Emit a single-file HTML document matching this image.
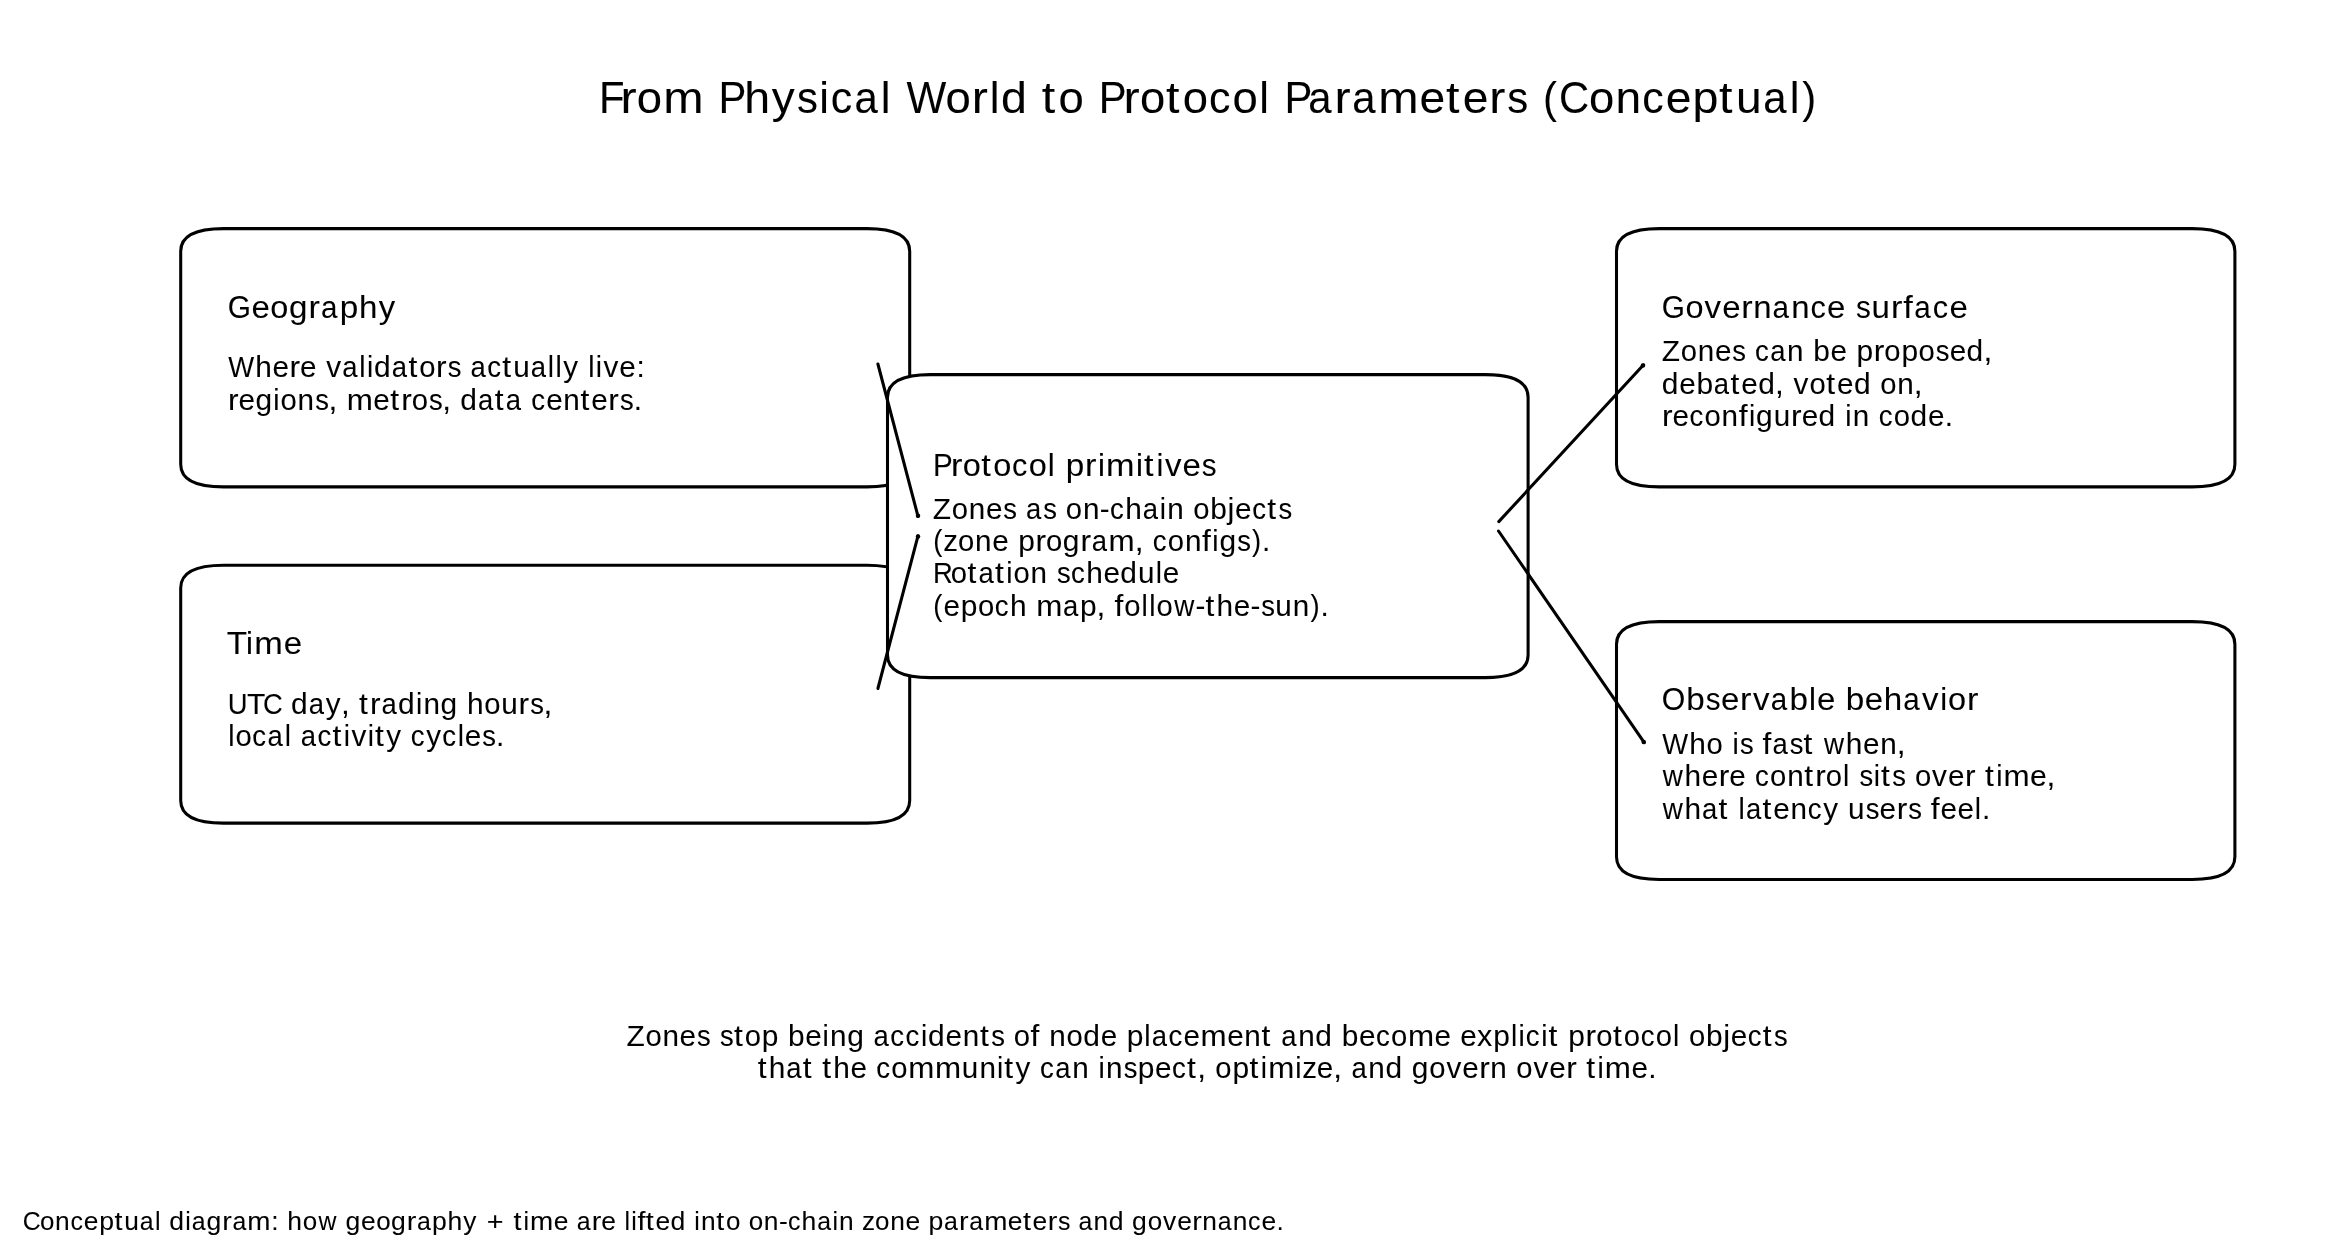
<!DOCTYPE html>
<html lang="en">
<head>
<meta charset="utf-8">
<title>From Physical World to Protocol Parameters (Conceptual)</title>
<style>
html,body{margin:0;padding:0;background:#ffffff;}
body{width:2334px;height:1256px;overflow:hidden;}
svg{display:block;will-change:transform;filter:grayscale(1);}
text{font-family:"Liberation Sans",sans-serif;fill:#000000;stroke:#000000;stroke-width:0.05;}
.box{fill:#ffffff;stroke:#000000;stroke-width:3.06;stroke-linejoin:miter;}
.ln{fill:none;stroke:#000000;stroke-width:3.06;stroke-linecap:round;}
</style>
</head>
<body>
<svg width="2334" height="1256" viewBox="0 0 2334 1256">
<rect x="0" y="0" width="2334" height="1256" fill="#ffffff"/>
<g class="boxes">
<path class="box" d="M223.5 228.65L866.9 228.65Q909.7 228.65 909.7 251.35L909.7 464.15Q909.7 486.85 866.9 486.85L223.5 486.85Q180.7 486.85 180.7 464.15L180.7 251.35Q180.7 228.65 223.5 228.65Z"/>
<path class="box" d="M223.5 565.3L866.9 565.3Q909.7 565.3 909.7 588L909.7 800.4Q909.7 823.1 866.9 823.1L223.5 823.1Q180.7 823.1 180.7 800.4L180.7 588Q180.7 565.3 223.5 565.3Z"/>
<path class="box" d="M1659.3 228.65L2192.1 228.65Q2234.9 228.65 2234.9 251.35L2234.9 464.15Q2234.9 486.85 2192.1 486.85L1659.3 486.85Q1616.5 486.85 1616.5 464.15L1616.5 251.35Q1616.5 228.65 1659.3 228.65Z"/>
<path class="box" d="M1659.3 621.6L2192.1 621.6Q2234.9 621.6 2234.9 644.3L2234.9 856.8Q2234.9 879.5 2192.1 879.5L1659.3 879.5Q1616.5 879.5 1616.5 856.8L1616.5 644.3Q1616.5 621.6 1659.3 621.6Z"/>
<path class="box" d="M930.3 374.6L1485.3 374.6Q1528.1 374.6 1528.1 397.3L1528.1 654.9Q1528.1 677.6 1485.3 677.6L930.3 677.6Q887.5 677.6 887.5 654.9L887.5 397.3Q887.5 374.6 930.3 374.6Z"/>
</g>
<g class="links">
<line class="ln" x1="877.9" y1="364" x2="918" y2="516.3"/>
<line class="ln" x1="877.9" y1="688.5" x2="918" y2="535.9"/>
<line class="ln" x1="1498.8" y1="521.6" x2="1643.6" y2="364.8"/>
<line class="ln" x1="1498.5" y1="531" x2="1644.3" y2="742.6"/>
<circle cx="918" cy="515.8" r="2.25" fill="#000000"/>
<circle cx="918" cy="536.4" r="2.25" fill="#000000"/>
<circle cx="1642.9" cy="365.5" r="2.25" fill="#000000"/>
<circle cx="1643.7" cy="741.9" r="2.25" fill="#000000"/>
</g>
<g class="labels">
<text y="113" font-size="44.06"><tspan x="599.1" textLength="25.57" lengthAdjust="spacingAndGlyphs">F</tspan><tspan x="620.47" textLength="16.14" lengthAdjust="spacingAndGlyphs">r</tspan><tspan x="636.83" textLength="25.29" lengthAdjust="spacingAndGlyphs">o</tspan><tspan x="663.2" textLength="40.37" lengthAdjust="spacingAndGlyphs">m</tspan> <tspan x="718.53" textLength="27.92" lengthAdjust="spacingAndGlyphs">P</tspan><tspan x="744.21" textLength="25.83" lengthAdjust="spacingAndGlyphs">h</tspan><tspan x="771.8" textLength="22.97" lengthAdjust="spacingAndGlyphs">y</tspan><tspan x="797.09" textLength="20.93" lengthAdjust="spacingAndGlyphs">s</tspan><tspan x="819.32" textLength="9.72" lengthAdjust="spacingAndGlyphs">i</tspan><tspan x="830.63" textLength="21.46" lengthAdjust="spacingAndGlyphs">c</tspan><tspan x="854.38" textLength="23.28" lengthAdjust="spacingAndGlyphs">a</tspan><tspan x="880.87" textLength="9.72" lengthAdjust="spacingAndGlyphs">l</tspan> <tspan x="906.49" textLength="39.81" lengthAdjust="spacingAndGlyphs">W</tspan><tspan x="945.48" textLength="25.29" lengthAdjust="spacingAndGlyphs">o</tspan><tspan x="971.85" textLength="16.14" lengthAdjust="spacingAndGlyphs">r</tspan><tspan x="989.84" textLength="9.72" lengthAdjust="spacingAndGlyphs">l</tspan><tspan x="1001.04" textLength="25.86" lengthAdjust="spacingAndGlyphs">d</tspan> <tspan x="1041.78" textLength="13.47" lengthAdjust="spacingAndGlyphs">t</tspan><tspan x="1058.57" textLength="25.29" lengthAdjust="spacingAndGlyphs">o</tspan> <tspan x="1098.63" textLength="27.92" lengthAdjust="spacingAndGlyphs">P</tspan><tspan x="1123.56" textLength="16.14" lengthAdjust="spacingAndGlyphs">r</tspan><tspan x="1139.92" textLength="25.29" lengthAdjust="spacingAndGlyphs">o</tspan><tspan x="1166.04" textLength="13.47" lengthAdjust="spacingAndGlyphs">t</tspan><tspan x="1182.84" textLength="25.29" lengthAdjust="spacingAndGlyphs">o</tspan><tspan x="1209.08" textLength="21.46" lengthAdjust="spacingAndGlyphs">c</tspan><tspan x="1232.5" textLength="25.29" lengthAdjust="spacingAndGlyphs">o</tspan><tspan x="1259.29" textLength="9.72" lengthAdjust="spacingAndGlyphs">l</tspan> <tspan x="1284.43" textLength="27.92" lengthAdjust="spacingAndGlyphs">P</tspan><tspan x="1308.36" textLength="23.28" lengthAdjust="spacingAndGlyphs">a</tspan><tspan x="1334.44" textLength="16.14" lengthAdjust="spacingAndGlyphs">r</tspan><tspan x="1352.14" textLength="23.28" lengthAdjust="spacingAndGlyphs">a</tspan><tspan x="1378.21" textLength="40.37" lengthAdjust="spacingAndGlyphs">m</tspan><tspan x="1419.58" textLength="25.7" lengthAdjust="spacingAndGlyphs">e</tspan><tspan x="1445.9" textLength="13.47" lengthAdjust="spacingAndGlyphs">t</tspan><tspan x="1462.65" textLength="25.7" lengthAdjust="spacingAndGlyphs">e</tspan><tspan x="1489.22" textLength="16.14" lengthAdjust="spacingAndGlyphs">r</tspan><tspan x="1507.28" textLength="20.93" lengthAdjust="spacingAndGlyphs">s</tspan> <tspan x="1543.07" textLength="13.94" lengthAdjust="spacingAndGlyphs">(</tspan><tspan x="1558.94" textLength="30.23" lengthAdjust="spacingAndGlyphs">C</tspan><tspan x="1588.97" textLength="25.29" lengthAdjust="spacingAndGlyphs">o</tspan><tspan x="1615.49" textLength="25.65" lengthAdjust="spacingAndGlyphs">n</tspan><tspan x="1642.3" textLength="21.46" lengthAdjust="spacingAndGlyphs">c</tspan><tspan x="1665.67" textLength="25.7" lengthAdjust="spacingAndGlyphs">e</tspan><tspan x="1692.46" textLength="25.88" lengthAdjust="spacingAndGlyphs">p</tspan><tspan x="1719.12" textLength="13.47" lengthAdjust="spacingAndGlyphs">t</tspan><tspan x="1736.11" textLength="25.65" lengthAdjust="spacingAndGlyphs">u</tspan><tspan x="1763.36" textLength="23.28" lengthAdjust="spacingAndGlyphs">a</tspan><tspan x="1789.85" textLength="9.72" lengthAdjust="spacingAndGlyphs">l</tspan><tspan x="1802.31" textLength="13.94" lengthAdjust="spacingAndGlyphs">)</tspan></text>
<text y="318" font-size="31.17"><tspan x="227.77" textLength="23.18" lengthAdjust="spacingAndGlyphs">G</tspan><tspan x="251.47" textLength="18.36" lengthAdjust="spacingAndGlyphs">e</tspan><tspan x="270.27" textLength="18.07" lengthAdjust="spacingAndGlyphs">o</tspan><tspan x="288.9" textLength="18.47" lengthAdjust="spacingAndGlyphs">g</tspan><tspan x="308.47" textLength="11.42" lengthAdjust="spacingAndGlyphs">r</tspan><tspan x="321.09" textLength="16.47" lengthAdjust="spacingAndGlyphs">a</tspan><tspan x="339.83" textLength="18.49" lengthAdjust="spacingAndGlyphs">p</tspan><tspan x="359.04" textLength="18.45" lengthAdjust="spacingAndGlyphs">h</tspan><tspan x="378.72" textLength="16.41" lengthAdjust="spacingAndGlyphs">y</tspan></text>
<text y="377" font-size="28.88"><tspan x="228.34" textLength="25.89" lengthAdjust="spacingAndGlyphs">W</tspan><tspan x="255.17" textLength="16.6" lengthAdjust="spacingAndGlyphs">h</tspan><tspan x="272.43" textLength="16.52" lengthAdjust="spacingAndGlyphs">e</tspan><tspan x="289.48" textLength="10.58" lengthAdjust="spacingAndGlyphs">r</tspan><tspan x="300.03" textLength="16.52" lengthAdjust="spacingAndGlyphs">e</tspan> <tspan x="326.15" textLength="14.84" lengthAdjust="spacingAndGlyphs">v</tspan><tspan x="342.19" textLength="15.26" lengthAdjust="spacingAndGlyphs">a</tspan><tspan x="359.25" textLength="6.25" lengthAdjust="spacingAndGlyphs">l</tspan><tspan x="366.91" textLength="6.25" lengthAdjust="spacingAndGlyphs">i</tspan><tspan x="374.1" textLength="16.62" lengthAdjust="spacingAndGlyphs">d</tspan><tspan x="391.78" textLength="15.26" lengthAdjust="spacingAndGlyphs">a</tspan><tspan x="408.4" textLength="8.82" lengthAdjust="spacingAndGlyphs">t</tspan><tspan x="419.22" textLength="16.26" lengthAdjust="spacingAndGlyphs">o</tspan><tspan x="436.14" textLength="10.58" lengthAdjust="spacingAndGlyphs">r</tspan><tspan x="447.79" textLength="13.72" lengthAdjust="spacingAndGlyphs">s</tspan> <tspan x="470.61" textLength="15.26" lengthAdjust="spacingAndGlyphs">a</tspan><tspan x="487.33" textLength="13.8" lengthAdjust="spacingAndGlyphs">c</tspan><tspan x="502.36" textLength="8.82" lengthAdjust="spacingAndGlyphs">t</tspan><tspan x="513.29" textLength="16.49" lengthAdjust="spacingAndGlyphs">u</tspan><tspan x="530.8" textLength="15.26" lengthAdjust="spacingAndGlyphs">a</tspan><tspan x="547.86" textLength="6.25" lengthAdjust="spacingAndGlyphs">l</tspan><tspan x="555.5" textLength="6.25" lengthAdjust="spacingAndGlyphs">l</tspan><tspan x="563.19" textLength="14.77" lengthAdjust="spacingAndGlyphs">y</tspan> <tspan x="588.16" textLength="6.25" lengthAdjust="spacingAndGlyphs">l</tspan><tspan x="595.81" textLength="6.25" lengthAdjust="spacingAndGlyphs">i</tspan><tspan x="603.46" textLength="14.84" lengthAdjust="spacingAndGlyphs">v</tspan><tspan x="619.27" textLength="16.52" lengthAdjust="spacingAndGlyphs">e</tspan><tspan x="636.44" textLength="8.27" lengthAdjust="spacingAndGlyphs">:</tspan></text>
<text y="410" font-size="28.88"><tspan x="227.94" textLength="10.58" lengthAdjust="spacingAndGlyphs">r</tspan><tspan x="238.49" textLength="16.52" lengthAdjust="spacingAndGlyphs">e</tspan><tspan x="255.41" textLength="16.62" lengthAdjust="spacingAndGlyphs">g</tspan><tspan x="273.32" textLength="6.25" lengthAdjust="spacingAndGlyphs">i</tspan><tspan x="280.54" textLength="16.26" lengthAdjust="spacingAndGlyphs">o</tspan><tspan x="297.6" textLength="16.49" lengthAdjust="spacingAndGlyphs">n</tspan><tspan x="315.23" textLength="13.72" lengthAdjust="spacingAndGlyphs">s</tspan><tspan x="328.5" textLength="8.82" lengthAdjust="spacingAndGlyphs">,</tspan> <tspan x="346.73" textLength="26.1" lengthAdjust="spacingAndGlyphs">m</tspan><tspan x="373.35" textLength="16.52" lengthAdjust="spacingAndGlyphs">e</tspan><tspan x="390.28" textLength="8.82" lengthAdjust="spacingAndGlyphs">t</tspan><tspan x="401.19" textLength="10.58" lengthAdjust="spacingAndGlyphs">r</tspan><tspan x="411.77" textLength="16.26" lengthAdjust="spacingAndGlyphs">o</tspan><tspan x="429.03" textLength="13.72" lengthAdjust="spacingAndGlyphs">s</tspan><tspan x="442.31" textLength="8.82" lengthAdjust="spacingAndGlyphs">,</tspan> <tspan x="460.38" textLength="16.62" lengthAdjust="spacingAndGlyphs">d</tspan><tspan x="478.06" textLength="15.26" lengthAdjust="spacingAndGlyphs">a</tspan><tspan x="494.68" textLength="8.82" lengthAdjust="spacingAndGlyphs">t</tspan><tspan x="505.69" textLength="15.26" lengthAdjust="spacingAndGlyphs">a</tspan> <tspan x="531.15" textLength="13.8" lengthAdjust="spacingAndGlyphs">c</tspan><tspan x="546.18" textLength="16.52" lengthAdjust="spacingAndGlyphs">e</tspan><tspan x="563.37" textLength="16.49" lengthAdjust="spacingAndGlyphs">n</tspan><tspan x="580.53" textLength="8.82" lengthAdjust="spacingAndGlyphs">t</tspan><tspan x="591.31" textLength="16.52" lengthAdjust="spacingAndGlyphs">e</tspan><tspan x="608.36" textLength="10.58" lengthAdjust="spacingAndGlyphs">r</tspan><tspan x="620" textLength="13.72" lengthAdjust="spacingAndGlyphs">s</tspan><tspan x="633.83" textLength="8.27" lengthAdjust="spacingAndGlyphs">.</tspan></text>
<text y="654" font-size="31.17"><tspan x="226.71" textLength="20.36" lengthAdjust="spacingAndGlyphs">T</tspan><tspan x="246.1" textLength="6.94" lengthAdjust="spacingAndGlyphs">i</tspan><tspan x="254.28" textLength="28.56" lengthAdjust="spacingAndGlyphs">m</tspan><tspan x="283.77" textLength="18.36" lengthAdjust="spacingAndGlyphs">e</tspan></text>
<text y="714" font-size="28.88"><tspan x="227.82" textLength="19.81" lengthAdjust="spacingAndGlyphs">U</tspan><tspan x="246.92" textLength="18.32" lengthAdjust="spacingAndGlyphs">T</tspan><tspan x="263" textLength="19.81" lengthAdjust="spacingAndGlyphs">C</tspan> <tspan x="291.06" textLength="16.62" lengthAdjust="spacingAndGlyphs">d</tspan><tspan x="308.74" textLength="15.26" lengthAdjust="spacingAndGlyphs">a</tspan><tspan x="325.85" textLength="14.77" lengthAdjust="spacingAndGlyphs">y</tspan><tspan x="341.05" textLength="8.82" lengthAdjust="spacingAndGlyphs">,</tspan> <tspan x="359.12" textLength="8.82" lengthAdjust="spacingAndGlyphs">t</tspan><tspan x="370.03" textLength="10.58" lengthAdjust="spacingAndGlyphs">r</tspan><tspan x="381.43" textLength="15.26" lengthAdjust="spacingAndGlyphs">a</tspan><tspan x="398.06" textLength="16.62" lengthAdjust="spacingAndGlyphs">d</tspan><tspan x="415.97" textLength="6.25" lengthAdjust="spacingAndGlyphs">i</tspan><tspan x="423.43" textLength="16.49" lengthAdjust="spacingAndGlyphs">n</tspan><tspan x="440.59" textLength="16.62" lengthAdjust="spacingAndGlyphs">g</tspan> <tspan x="466.95" textLength="16.6" lengthAdjust="spacingAndGlyphs">h</tspan><tspan x="484.24" textLength="16.26" lengthAdjust="spacingAndGlyphs">o</tspan><tspan x="501.19" textLength="16.49" lengthAdjust="spacingAndGlyphs">u</tspan><tspan x="518.59" textLength="10.58" lengthAdjust="spacingAndGlyphs">r</tspan><tspan x="530.24" textLength="13.72" lengthAdjust="spacingAndGlyphs">s</tspan><tspan x="543.52" textLength="8.82" lengthAdjust="spacingAndGlyphs">,</tspan></text>
<text y="746" font-size="28.88"><tspan x="228.25" textLength="6.25" lengthAdjust="spacingAndGlyphs">l</tspan><tspan x="235.48" textLength="16.26" lengthAdjust="spacingAndGlyphs">o</tspan><tspan x="252.36" textLength="13.8" lengthAdjust="spacingAndGlyphs">c</tspan><tspan x="267.62" textLength="15.26" lengthAdjust="spacingAndGlyphs">a</tspan><tspan x="284.68" textLength="6.25" lengthAdjust="spacingAndGlyphs">l</tspan> <tspan x="300.85" textLength="15.26" lengthAdjust="spacingAndGlyphs">a</tspan><tspan x="317.57" textLength="13.8" lengthAdjust="spacingAndGlyphs">c</tspan><tspan x="332.6" textLength="8.82" lengthAdjust="spacingAndGlyphs">t</tspan><tspan x="343.83" textLength="6.25" lengthAdjust="spacingAndGlyphs">i</tspan><tspan x="351.48" textLength="14.84" lengthAdjust="spacingAndGlyphs">v</tspan><tspan x="367.75" textLength="6.25" lengthAdjust="spacingAndGlyphs">i</tspan><tspan x="374.94" textLength="8.82" lengthAdjust="spacingAndGlyphs">t</tspan><tspan x="386.21" textLength="14.77" lengthAdjust="spacingAndGlyphs">y</tspan> <tspan x="410.82" textLength="13.8" lengthAdjust="spacingAndGlyphs">c</tspan><tspan x="426.34" textLength="14.77" lengthAdjust="spacingAndGlyphs">y</tspan><tspan x="442.22" textLength="13.8" lengthAdjust="spacingAndGlyphs">c</tspan><tspan x="457.69" textLength="6.25" lengthAdjust="spacingAndGlyphs">l</tspan><tspan x="464.89" textLength="16.52" lengthAdjust="spacingAndGlyphs">e</tspan><tspan x="482.28" textLength="13.72" lengthAdjust="spacingAndGlyphs">s</tspan><tspan x="496.1" textLength="8.27" lengthAdjust="spacingAndGlyphs">.</tspan></text>
<text y="476" font-size="31.17"><tspan x="933.12" textLength="19.75" lengthAdjust="spacingAndGlyphs">P</tspan><tspan x="950.94" textLength="11.42" lengthAdjust="spacingAndGlyphs">r</tspan><tspan x="962.68" textLength="18.07" lengthAdjust="spacingAndGlyphs">o</tspan><tspan x="981.32" textLength="9.53" lengthAdjust="spacingAndGlyphs">t</tspan><tspan x="993.3" textLength="18.07" lengthAdjust="spacingAndGlyphs">o</tspan><tspan x="1012.02" textLength="15.33" lengthAdjust="spacingAndGlyphs">c</tspan><tspan x="1028.73" textLength="18.07" lengthAdjust="spacingAndGlyphs">o</tspan><tspan x="1047.84" textLength="6.94" lengthAdjust="spacingAndGlyphs">l</tspan> <tspan x="1065.87" textLength="18.49" lengthAdjust="spacingAndGlyphs">p</tspan><tspan x="1085.09" textLength="11.42" lengthAdjust="spacingAndGlyphs">r</tspan><tspan x="1097.92" textLength="6.94" lengthAdjust="spacingAndGlyphs">i</tspan><tspan x="1106.11" textLength="28.56" lengthAdjust="spacingAndGlyphs">m</tspan><tspan x="1136.11" textLength="6.94" lengthAdjust="spacingAndGlyphs">i</tspan><tspan x="1144.09" textLength="9.53" lengthAdjust="spacingAndGlyphs">t</tspan><tspan x="1156.54" textLength="6.94" lengthAdjust="spacingAndGlyphs">i</tspan><tspan x="1165.02" textLength="16.49" lengthAdjust="spacingAndGlyphs">v</tspan><tspan x="1182.56" textLength="18.36" lengthAdjust="spacingAndGlyphs">e</tspan><tspan x="1201.87" textLength="14.8" lengthAdjust="spacingAndGlyphs">s</tspan></text>
<text y="519" font-size="28.88"><tspan x="932.84" textLength="18.25" lengthAdjust="spacingAndGlyphs">Z</tspan><tspan x="951.68" textLength="16.26" lengthAdjust="spacingAndGlyphs">o</tspan><tspan x="968.74" textLength="16.49" lengthAdjust="spacingAndGlyphs">n</tspan><tspan x="985.9" textLength="16.52" lengthAdjust="spacingAndGlyphs">e</tspan><tspan x="1003.29" textLength="13.72" lengthAdjust="spacingAndGlyphs">s</tspan> <tspan x="1026.12" textLength="15.26" lengthAdjust="spacingAndGlyphs">a</tspan><tspan x="1043.21" textLength="13.72" lengthAdjust="spacingAndGlyphs">s</tspan> <tspan x="1065.84" textLength="16.26" lengthAdjust="spacingAndGlyphs">o</tspan><tspan x="1082.91" textLength="16.49" lengthAdjust="spacingAndGlyphs">n</tspan><tspan x="1099.83" textLength="9.87" lengthAdjust="spacingAndGlyphs">-</tspan><tspan x="1110.07" textLength="13.8" lengthAdjust="spacingAndGlyphs">c</tspan><tspan x="1125.28" textLength="16.6" lengthAdjust="spacingAndGlyphs">h</tspan><tspan x="1142.76" textLength="15.26" lengthAdjust="spacingAndGlyphs">a</tspan><tspan x="1159.84" textLength="6.25" lengthAdjust="spacingAndGlyphs">i</tspan><tspan x="1167.3" textLength="16.49" lengthAdjust="spacingAndGlyphs">n</tspan> <tspan x="1193.23" textLength="16.26" lengthAdjust="spacingAndGlyphs">o</tspan><tspan x="1210.33" textLength="16.64" lengthAdjust="spacingAndGlyphs">b</tspan><tspan x="1227.48" textLength="6.89" lengthAdjust="spacingAndGlyphs">j</tspan><tspan x="1235.12" textLength="16.52" lengthAdjust="spacingAndGlyphs">e</tspan><tspan x="1252.13" textLength="13.8" lengthAdjust="spacingAndGlyphs">c</tspan><tspan x="1267.16" textLength="8.82" lengthAdjust="spacingAndGlyphs">t</tspan><tspan x="1278.41" textLength="13.72" lengthAdjust="spacingAndGlyphs">s</tspan></text>
<text y="551" font-size="28.88"><tspan x="933.21" textLength="9.13" lengthAdjust="spacingAndGlyphs">(</tspan><tspan x="943.27" textLength="14.73" lengthAdjust="spacingAndGlyphs">z</tspan><tspan x="958" textLength="16.26" lengthAdjust="spacingAndGlyphs">o</tspan><tspan x="975.07" textLength="16.49" lengthAdjust="spacingAndGlyphs">n</tspan><tspan x="992.22" textLength="16.52" lengthAdjust="spacingAndGlyphs">e</tspan> <tspan x="1018.2" textLength="16.64" lengthAdjust="spacingAndGlyphs">p</tspan><tspan x="1035.47" textLength="10.58" lengthAdjust="spacingAndGlyphs">r</tspan><tspan x="1046.06" textLength="16.26" lengthAdjust="spacingAndGlyphs">o</tspan><tspan x="1062.85" textLength="16.62" lengthAdjust="spacingAndGlyphs">g</tspan><tspan x="1080.43" textLength="10.58" lengthAdjust="spacingAndGlyphs">r</tspan><tspan x="1091.84" textLength="15.26" lengthAdjust="spacingAndGlyphs">a</tspan><tspan x="1108.62" textLength="26.1" lengthAdjust="spacingAndGlyphs">m</tspan><tspan x="1134.67" textLength="8.82" lengthAdjust="spacingAndGlyphs">,</tspan> <tspan x="1152.82" textLength="13.8" lengthAdjust="spacingAndGlyphs">c</tspan><tspan x="1167.88" textLength="16.26" lengthAdjust="spacingAndGlyphs">o</tspan><tspan x="1184.95" textLength="16.49" lengthAdjust="spacingAndGlyphs">n</tspan><tspan x="1202.03" textLength="8.82" lengthAdjust="spacingAndGlyphs">f</tspan><tspan x="1212.24" textLength="6.25" lengthAdjust="spacingAndGlyphs">i</tspan><tspan x="1219.43" textLength="16.62" lengthAdjust="spacingAndGlyphs">g</tspan><tspan x="1237.35" textLength="13.72" lengthAdjust="spacingAndGlyphs">s</tspan><tspan x="1251.89" textLength="9.13" lengthAdjust="spacingAndGlyphs">)</tspan><tspan x="1261.91" textLength="8.27" lengthAdjust="spacingAndGlyphs">.</tspan></text>
<text y="583" font-size="28.88"><tspan x="933" textLength="19.81" lengthAdjust="spacingAndGlyphs">R</tspan><tspan x="950.7" textLength="16.26" lengthAdjust="spacingAndGlyphs">o</tspan><tspan x="967.49" textLength="8.82" lengthAdjust="spacingAndGlyphs">t</tspan><tspan x="978.5" textLength="15.26" lengthAdjust="spacingAndGlyphs">a</tspan><tspan x="995.12" textLength="8.82" lengthAdjust="spacingAndGlyphs">t</tspan><tspan x="1006.36" textLength="6.25" lengthAdjust="spacingAndGlyphs">i</tspan><tspan x="1013.58" textLength="16.26" lengthAdjust="spacingAndGlyphs">o</tspan><tspan x="1030.64" textLength="16.49" lengthAdjust="spacingAndGlyphs">n</tspan> <tspan x="1057.01" textLength="13.72" lengthAdjust="spacingAndGlyphs">s</tspan><tspan x="1070.96" textLength="13.8" lengthAdjust="spacingAndGlyphs">c</tspan><tspan x="1086.16" textLength="16.6" lengthAdjust="spacingAndGlyphs">h</tspan><tspan x="1103.42" textLength="16.52" lengthAdjust="spacingAndGlyphs">e</tspan><tspan x="1120.34" textLength="16.62" lengthAdjust="spacingAndGlyphs">d</tspan><tspan x="1137.95" textLength="16.49" lengthAdjust="spacingAndGlyphs">u</tspan><tspan x="1155.66" textLength="6.25" lengthAdjust="spacingAndGlyphs">l</tspan><tspan x="1162.86" textLength="16.52" lengthAdjust="spacingAndGlyphs">e</tspan></text>
<text y="616" font-size="28.88"><tspan x="933.21" textLength="9.13" lengthAdjust="spacingAndGlyphs">(</tspan><tspan x="943.53" textLength="16.52" lengthAdjust="spacingAndGlyphs">e</tspan><tspan x="960.77" textLength="16.64" lengthAdjust="spacingAndGlyphs">p</tspan><tspan x="977.94" textLength="16.26" lengthAdjust="spacingAndGlyphs">o</tspan><tspan x="994.82" textLength="13.8" lengthAdjust="spacingAndGlyphs">c</tspan><tspan x="1010.03" textLength="16.6" lengthAdjust="spacingAndGlyphs">h</tspan> <tspan x="1036.19" textLength="26.1" lengthAdjust="spacingAndGlyphs">m</tspan><tspan x="1063.04" textLength="15.26" lengthAdjust="spacingAndGlyphs">a</tspan><tspan x="1079.98" textLength="16.64" lengthAdjust="spacingAndGlyphs">p</tspan><tspan x="1096.54" textLength="8.82" lengthAdjust="spacingAndGlyphs">,</tspan> <tspan x="1114.53" textLength="8.82" lengthAdjust="spacingAndGlyphs">f</tspan><tspan x="1124.32" textLength="16.26" lengthAdjust="spacingAndGlyphs">o</tspan><tspan x="1141.55" textLength="6.25" lengthAdjust="spacingAndGlyphs">l</tspan><tspan x="1149.19" textLength="6.25" lengthAdjust="spacingAndGlyphs">l</tspan><tspan x="1156.42" textLength="16.26" lengthAdjust="spacingAndGlyphs">o</tspan><tspan x="1174.16" textLength="20.07" lengthAdjust="spacingAndGlyphs">w</tspan><tspan x="1195.48" textLength="9.87" lengthAdjust="spacingAndGlyphs">-</tspan><tspan x="1205.63" textLength="8.82" lengthAdjust="spacingAndGlyphs">t</tspan><tspan x="1216.58" textLength="16.6" lengthAdjust="spacingAndGlyphs">h</tspan><tspan x="1233.84" textLength="16.52" lengthAdjust="spacingAndGlyphs">e</tspan><tspan x="1250.53" textLength="9.87" lengthAdjust="spacingAndGlyphs">-</tspan><tspan x="1261.16" textLength="13.72" lengthAdjust="spacingAndGlyphs">s</tspan><tspan x="1275.17" textLength="16.49" lengthAdjust="spacingAndGlyphs">u</tspan><tspan x="1292.71" textLength="16.49" lengthAdjust="spacingAndGlyphs">n</tspan><tspan x="1310.55" textLength="9.13" lengthAdjust="spacingAndGlyphs">)</tspan><tspan x="1320.57" textLength="8.27" lengthAdjust="spacingAndGlyphs">.</tspan></text>
<text y="318" font-size="31.17"><tspan x="1661.77" textLength="23.18" lengthAdjust="spacingAndGlyphs">G</tspan><tspan x="1685.51" textLength="18.07" lengthAdjust="spacingAndGlyphs">o</tspan><tspan x="1704.64" textLength="16.49" lengthAdjust="spacingAndGlyphs">v</tspan><tspan x="1722.18" textLength="18.36" lengthAdjust="spacingAndGlyphs">e</tspan><tspan x="1741.16" textLength="11.42" lengthAdjust="spacingAndGlyphs">r</tspan><tspan x="1753.29" textLength="18.32" lengthAdjust="spacingAndGlyphs">n</tspan><tspan x="1772.61" textLength="16.47" lengthAdjust="spacingAndGlyphs">a</tspan><tspan x="1791.31" textLength="18.32" lengthAdjust="spacingAndGlyphs">n</tspan><tspan x="1810.43" textLength="15.33" lengthAdjust="spacingAndGlyphs">c</tspan><tspan x="1827.1" textLength="18.36" lengthAdjust="spacingAndGlyphs">e</tspan> <tspan x="1856.11" textLength="14.8" lengthAdjust="spacingAndGlyphs">s</tspan><tspan x="1871.63" textLength="18.32" lengthAdjust="spacingAndGlyphs">u</tspan><tspan x="1891" textLength="11.42" lengthAdjust="spacingAndGlyphs">r</tspan><tspan x="1903.26" textLength="9.53" lengthAdjust="spacingAndGlyphs">f</tspan><tspan x="1914.35" textLength="16.47" lengthAdjust="spacingAndGlyphs">a</tspan><tspan x="1932.85" textLength="15.33" lengthAdjust="spacingAndGlyphs">c</tspan><tspan x="1949.52" textLength="18.36" lengthAdjust="spacingAndGlyphs">e</tspan></text>
<text y="361" font-size="28.88"><tspan x="1661.84" textLength="18.25" lengthAdjust="spacingAndGlyphs">Z</tspan><tspan x="1680.68" textLength="16.26" lengthAdjust="spacingAndGlyphs">o</tspan><tspan x="1697.74" textLength="16.49" lengthAdjust="spacingAndGlyphs">n</tspan><tspan x="1714.9" textLength="16.52" lengthAdjust="spacingAndGlyphs">e</tspan><tspan x="1732.29" textLength="13.72" lengthAdjust="spacingAndGlyphs">s</tspan> <tspan x="1754.98" textLength="13.8" lengthAdjust="spacingAndGlyphs">c</tspan><tspan x="1770.24" textLength="15.26" lengthAdjust="spacingAndGlyphs">a</tspan><tspan x="1787.13" textLength="16.49" lengthAdjust="spacingAndGlyphs">n</tspan> <tspan x="1813.34" textLength="16.64" lengthAdjust="spacingAndGlyphs">b</tspan><tspan x="1830.48" textLength="16.52" lengthAdjust="spacingAndGlyphs">e</tspan> <tspan x="1856.46" textLength="16.64" lengthAdjust="spacingAndGlyphs">p</tspan><tspan x="1873.73" textLength="10.58" lengthAdjust="spacingAndGlyphs">r</tspan><tspan x="1884.32" textLength="16.26" lengthAdjust="spacingAndGlyphs">o</tspan><tspan x="1901.42" textLength="16.64" lengthAdjust="spacingAndGlyphs">p</tspan><tspan x="1918.6" textLength="16.26" lengthAdjust="spacingAndGlyphs">o</tspan><tspan x="1935.86" textLength="13.72" lengthAdjust="spacingAndGlyphs">s</tspan><tspan x="1949.72" textLength="16.52" lengthAdjust="spacingAndGlyphs">e</tspan><tspan x="1966.64" textLength="16.62" lengthAdjust="spacingAndGlyphs">d</tspan><tspan x="1983.51" textLength="8.82" lengthAdjust="spacingAndGlyphs">,</tspan></text>
<text y="394" font-size="28.88"><tspan x="1661.81" textLength="16.62" lengthAdjust="spacingAndGlyphs">d</tspan><tspan x="1679.26" textLength="16.52" lengthAdjust="spacingAndGlyphs">e</tspan><tspan x="1696.49" textLength="16.64" lengthAdjust="spacingAndGlyphs">b</tspan><tspan x="1713.87" textLength="15.26" lengthAdjust="spacingAndGlyphs">a</tspan><tspan x="1730.49" textLength="8.82" lengthAdjust="spacingAndGlyphs">t</tspan><tspan x="1741.27" textLength="16.52" lengthAdjust="spacingAndGlyphs">e</tspan><tspan x="1758.2" textLength="16.62" lengthAdjust="spacingAndGlyphs">d</tspan><tspan x="1775.07" textLength="8.82" lengthAdjust="spacingAndGlyphs">,</tspan> <tspan x="1793.59" textLength="14.84" lengthAdjust="spacingAndGlyphs">v</tspan><tspan x="1809.44" textLength="16.26" lengthAdjust="spacingAndGlyphs">o</tspan><tspan x="1826.23" textLength="8.82" lengthAdjust="spacingAndGlyphs">t</tspan><tspan x="1837.01" textLength="16.52" lengthAdjust="spacingAndGlyphs">e</tspan><tspan x="1853.94" textLength="16.62" lengthAdjust="spacingAndGlyphs">d</tspan> <tspan x="1880.16" textLength="16.26" lengthAdjust="spacingAndGlyphs">o</tspan><tspan x="1897.23" textLength="16.49" lengthAdjust="spacingAndGlyphs">n</tspan><tspan x="1913.8" textLength="8.82" lengthAdjust="spacingAndGlyphs">,</tspan></text>
<text y="426" font-size="28.88"><tspan x="1661.94" textLength="10.58" lengthAdjust="spacingAndGlyphs">r</tspan><tspan x="1672.49" textLength="16.52" lengthAdjust="spacingAndGlyphs">e</tspan><tspan x="1689.5" textLength="13.8" lengthAdjust="spacingAndGlyphs">c</tspan><tspan x="1704.56" textLength="16.26" lengthAdjust="spacingAndGlyphs">o</tspan><tspan x="1721.62" textLength="16.49" lengthAdjust="spacingAndGlyphs">n</tspan><tspan x="1738.71" textLength="8.82" lengthAdjust="spacingAndGlyphs">f</tspan><tspan x="1748.92" textLength="6.25" lengthAdjust="spacingAndGlyphs">i</tspan><tspan x="1756.11" textLength="16.62" lengthAdjust="spacingAndGlyphs">g</tspan><tspan x="1773.71" textLength="16.49" lengthAdjust="spacingAndGlyphs">u</tspan><tspan x="1791.12" textLength="10.58" lengthAdjust="spacingAndGlyphs">r</tspan><tspan x="1801.67" textLength="16.52" lengthAdjust="spacingAndGlyphs">e</tspan><tspan x="1818.59" textLength="16.62" lengthAdjust="spacingAndGlyphs">d</tspan> <tspan x="1845.24" textLength="6.25" lengthAdjust="spacingAndGlyphs">i</tspan><tspan x="1852.7" textLength="16.49" lengthAdjust="spacingAndGlyphs">n</tspan> <tspan x="1878.68" textLength="13.8" lengthAdjust="spacingAndGlyphs">c</tspan><tspan x="1893.75" textLength="16.26" lengthAdjust="spacingAndGlyphs">o</tspan><tspan x="1910.55" textLength="16.62" lengthAdjust="spacingAndGlyphs">d</tspan><tspan x="1928" textLength="16.52" lengthAdjust="spacingAndGlyphs">e</tspan><tspan x="1944.88" textLength="8.27" lengthAdjust="spacingAndGlyphs">.</tspan></text>
<text y="710" font-size="31.17"><tspan x="1661.84" textLength="23.5" lengthAdjust="spacingAndGlyphs">O</tspan><tspan x="1686.19" textLength="18.49" lengthAdjust="spacingAndGlyphs">b</tspan><tspan x="1705.75" textLength="14.8" lengthAdjust="spacingAndGlyphs">s</tspan><tspan x="1721.09" textLength="18.36" lengthAdjust="spacingAndGlyphs">e</tspan><tspan x="1740.07" textLength="11.42" lengthAdjust="spacingAndGlyphs">r</tspan><tspan x="1752.91" textLength="16.49" lengthAdjust="spacingAndGlyphs">v</tspan><tspan x="1770.74" textLength="16.47" lengthAdjust="spacingAndGlyphs">a</tspan><tspan x="1789.48" textLength="18.49" lengthAdjust="spacingAndGlyphs">b</tspan><tspan x="1808.99" textLength="6.94" lengthAdjust="spacingAndGlyphs">l</tspan><tspan x="1816.97" textLength="18.36" lengthAdjust="spacingAndGlyphs">e</tspan> <tspan x="1845.78" textLength="18.49" lengthAdjust="spacingAndGlyphs">b</tspan><tspan x="1864.79" textLength="18.36" lengthAdjust="spacingAndGlyphs">e</tspan><tspan x="1883.75" textLength="18.45" lengthAdjust="spacingAndGlyphs">h</tspan><tspan x="1903.18" textLength="16.47" lengthAdjust="spacingAndGlyphs">a</tspan><tspan x="1922.09" textLength="16.49" lengthAdjust="spacingAndGlyphs">v</tspan><tspan x="1940.13" textLength="6.94" lengthAdjust="spacingAndGlyphs">i</tspan><tspan x="1948.14" textLength="18.07" lengthAdjust="spacingAndGlyphs">o</tspan><tspan x="1966.97" textLength="11.42" lengthAdjust="spacingAndGlyphs">r</tspan></text>
<text y="754" font-size="28.88"><tspan x="1662.34" textLength="25.89" lengthAdjust="spacingAndGlyphs">W</tspan><tspan x="1689.17" textLength="16.6" lengthAdjust="spacingAndGlyphs">h</tspan><tspan x="1706.46" textLength="16.26" lengthAdjust="spacingAndGlyphs">o</tspan> <tspan x="1732.45" textLength="6.25" lengthAdjust="spacingAndGlyphs">i</tspan><tspan x="1740.1" textLength="13.72" lengthAdjust="spacingAndGlyphs">s</tspan> <tspan x="1762.63" textLength="8.82" lengthAdjust="spacingAndGlyphs">f</tspan><tspan x="1772.61" textLength="15.26" lengthAdjust="spacingAndGlyphs">a</tspan><tspan x="1789.71" textLength="13.72" lengthAdjust="spacingAndGlyphs">s</tspan><tspan x="1803.56" textLength="8.82" lengthAdjust="spacingAndGlyphs">t</tspan> <tspan x="1824.03" textLength="20.07" lengthAdjust="spacingAndGlyphs">w</tspan><tspan x="1845.75" textLength="16.6" lengthAdjust="spacingAndGlyphs">h</tspan><tspan x="1863.01" textLength="16.52" lengthAdjust="spacingAndGlyphs">e</tspan><tspan x="1880.2" textLength="16.49" lengthAdjust="spacingAndGlyphs">n</tspan><tspan x="1896.78" textLength="8.82" lengthAdjust="spacingAndGlyphs">,</tspan></text>
<text y="786" font-size="28.88"><tspan x="1662.75" textLength="20.07" lengthAdjust="spacingAndGlyphs">w</tspan><tspan x="1684.47" textLength="16.6" lengthAdjust="spacingAndGlyphs">h</tspan><tspan x="1701.73" textLength="16.52" lengthAdjust="spacingAndGlyphs">e</tspan><tspan x="1718.78" textLength="10.58" lengthAdjust="spacingAndGlyphs">r</tspan><tspan x="1729.33" textLength="16.52" lengthAdjust="spacingAndGlyphs">e</tspan> <tspan x="1755.08" textLength="13.8" lengthAdjust="spacingAndGlyphs">c</tspan><tspan x="1770.14" textLength="16.26" lengthAdjust="spacingAndGlyphs">o</tspan><tspan x="1787.2" textLength="16.49" lengthAdjust="spacingAndGlyphs">n</tspan><tspan x="1804.36" textLength="8.82" lengthAdjust="spacingAndGlyphs">t</tspan><tspan x="1815.28" textLength="10.58" lengthAdjust="spacingAndGlyphs">r</tspan><tspan x="1825.86" textLength="16.26" lengthAdjust="spacingAndGlyphs">o</tspan><tspan x="1843.09" textLength="6.25" lengthAdjust="spacingAndGlyphs">l</tspan> <tspan x="1859.5" textLength="13.72" lengthAdjust="spacingAndGlyphs">s</tspan><tspan x="1873.81" textLength="6.25" lengthAdjust="spacingAndGlyphs">i</tspan><tspan x="1881" textLength="8.82" lengthAdjust="spacingAndGlyphs">t</tspan><tspan x="1892.25" textLength="13.72" lengthAdjust="spacingAndGlyphs">s</tspan> <tspan x="1914.88" textLength="16.26" lengthAdjust="spacingAndGlyphs">o</tspan><tspan x="1932.14" textLength="14.84" lengthAdjust="spacingAndGlyphs">v</tspan><tspan x="1947.95" textLength="16.52" lengthAdjust="spacingAndGlyphs">e</tspan><tspan x="1965" textLength="10.58" lengthAdjust="spacingAndGlyphs">r</tspan> <tspan x="1984.92" textLength="8.82" lengthAdjust="spacingAndGlyphs">t</tspan><tspan x="1996.15" textLength="6.25" lengthAdjust="spacingAndGlyphs">i</tspan><tspan x="2003.5" textLength="26.1" lengthAdjust="spacingAndGlyphs">m</tspan><tspan x="2030.13" textLength="16.52" lengthAdjust="spacingAndGlyphs">e</tspan><tspan x="2046.47" textLength="8.82" lengthAdjust="spacingAndGlyphs">,</tspan></text>
<text y="819" font-size="28.88"><tspan x="1662.75" textLength="20.07" lengthAdjust="spacingAndGlyphs">w</tspan><tspan x="1684.47" textLength="16.6" lengthAdjust="spacingAndGlyphs">h</tspan><tspan x="1701.96" textLength="15.26" lengthAdjust="spacingAndGlyphs">a</tspan><tspan x="1718.58" textLength="8.82" lengthAdjust="spacingAndGlyphs">t</tspan> <tspan x="1738.54" textLength="6.25" lengthAdjust="spacingAndGlyphs">l</tspan><tspan x="1745.97" textLength="15.26" lengthAdjust="spacingAndGlyphs">a</tspan><tspan x="1762.6" textLength="8.82" lengthAdjust="spacingAndGlyphs">t</tspan><tspan x="1773.38" textLength="16.52" lengthAdjust="spacingAndGlyphs">e</tspan><tspan x="1790.57" textLength="16.49" lengthAdjust="spacingAndGlyphs">n</tspan><tspan x="1807.81" textLength="13.8" lengthAdjust="spacingAndGlyphs">c</tspan><tspan x="1823.34" textLength="14.77" lengthAdjust="spacingAndGlyphs">y</tspan> <tspan x="1848.02" textLength="16.49" lengthAdjust="spacingAndGlyphs">u</tspan><tspan x="1865.76" textLength="13.72" lengthAdjust="spacingAndGlyphs">s</tspan><tspan x="1879.62" textLength="16.52" lengthAdjust="spacingAndGlyphs">e</tspan><tspan x="1896.67" textLength="10.58" lengthAdjust="spacingAndGlyphs">r</tspan><tspan x="1908.31" textLength="13.72" lengthAdjust="spacingAndGlyphs">s</tspan> <tspan x="1930.84" textLength="8.82" lengthAdjust="spacingAndGlyphs">f</tspan><tspan x="1940.59" textLength="16.52" lengthAdjust="spacingAndGlyphs">e</tspan><tspan x="1957.51" textLength="16.52" lengthAdjust="spacingAndGlyphs">e</tspan><tspan x="1974.87" textLength="6.25" lengthAdjust="spacingAndGlyphs">l</tspan><tspan x="1982.04" textLength="8.27" lengthAdjust="spacingAndGlyphs">.</tspan></text>
<text y="1046" font-size="28.88"><tspan x="626.56" textLength="18.25" lengthAdjust="spacingAndGlyphs">Z</tspan><tspan x="645.4" textLength="16.26" lengthAdjust="spacingAndGlyphs">o</tspan><tspan x="662.47" textLength="16.49" lengthAdjust="spacingAndGlyphs">n</tspan><tspan x="679.62" textLength="16.52" lengthAdjust="spacingAndGlyphs">e</tspan><tspan x="697.01" textLength="13.72" lengthAdjust="spacingAndGlyphs">s</tspan> <tspan x="720.08" textLength="13.72" lengthAdjust="spacingAndGlyphs">s</tspan><tspan x="733.94" textLength="8.82" lengthAdjust="spacingAndGlyphs">t</tspan><tspan x="744.76" textLength="16.26" lengthAdjust="spacingAndGlyphs">o</tspan><tspan x="761.86" textLength="16.64" lengthAdjust="spacingAndGlyphs">p</tspan> <tspan x="788.06" textLength="16.64" lengthAdjust="spacingAndGlyphs">b</tspan><tspan x="805.2" textLength="16.52" lengthAdjust="spacingAndGlyphs">e</tspan><tspan x="822.57" textLength="6.25" lengthAdjust="spacingAndGlyphs">i</tspan><tspan x="830.03" textLength="16.49" lengthAdjust="spacingAndGlyphs">n</tspan><tspan x="847.2" textLength="16.62" lengthAdjust="spacingAndGlyphs">g</tspan> <tspan x="873.62" textLength="15.26" lengthAdjust="spacingAndGlyphs">a</tspan><tspan x="890.33" textLength="13.8" lengthAdjust="spacingAndGlyphs">c</tspan><tspan x="905.45" textLength="13.8" lengthAdjust="spacingAndGlyphs">c</tspan><tspan x="920.93" textLength="6.25" lengthAdjust="spacingAndGlyphs">i</tspan><tspan x="928.12" textLength="16.62" lengthAdjust="spacingAndGlyphs">d</tspan><tspan x="945.57" textLength="16.52" lengthAdjust="spacingAndGlyphs">e</tspan><tspan x="962.77" textLength="16.49" lengthAdjust="spacingAndGlyphs">n</tspan><tspan x="979.92" textLength="8.82" lengthAdjust="spacingAndGlyphs">t</tspan><tspan x="991.18" textLength="13.72" lengthAdjust="spacingAndGlyphs">s</tspan> <tspan x="1013.81" textLength="16.26" lengthAdjust="spacingAndGlyphs">o</tspan><tspan x="1030.52" textLength="8.82" lengthAdjust="spacingAndGlyphs">f</tspan> <tspan x="1049.29" textLength="16.49" lengthAdjust="spacingAndGlyphs">n</tspan><tspan x="1066.48" textLength="16.26" lengthAdjust="spacingAndGlyphs">o</tspan><tspan x="1083.28" textLength="16.62" lengthAdjust="spacingAndGlyphs">d</tspan><tspan x="1100.73" textLength="16.52" lengthAdjust="spacingAndGlyphs">e</tspan> <tspan x="1126.71" textLength="16.64" lengthAdjust="spacingAndGlyphs">p</tspan><tspan x="1144.29" textLength="6.25" lengthAdjust="spacingAndGlyphs">l</tspan><tspan x="1151.72" textLength="15.26" lengthAdjust="spacingAndGlyphs">a</tspan><tspan x="1168.43" textLength="13.8" lengthAdjust="spacingAndGlyphs">c</tspan><tspan x="1183.46" textLength="16.52" lengthAdjust="spacingAndGlyphs">e</tspan><tspan x="1200.54" textLength="26.1" lengthAdjust="spacingAndGlyphs">m</tspan><tspan x="1227.17" textLength="16.52" lengthAdjust="spacingAndGlyphs">e</tspan><tspan x="1244.36" textLength="16.49" lengthAdjust="spacingAndGlyphs">n</tspan><tspan x="1261.52" textLength="8.82" lengthAdjust="spacingAndGlyphs">t</tspan> <tspan x="1281.27" textLength="15.26" lengthAdjust="spacingAndGlyphs">a</tspan><tspan x="1298.16" textLength="16.49" lengthAdjust="spacingAndGlyphs">n</tspan><tspan x="1315.33" textLength="16.62" lengthAdjust="spacingAndGlyphs">d</tspan> <tspan x="1341.83" textLength="16.64" lengthAdjust="spacingAndGlyphs">b</tspan><tspan x="1358.97" textLength="16.52" lengthAdjust="spacingAndGlyphs">e</tspan><tspan x="1375.98" textLength="13.8" lengthAdjust="spacingAndGlyphs">c</tspan><tspan x="1391.05" textLength="16.26" lengthAdjust="spacingAndGlyphs">o</tspan><tspan x="1408" textLength="26.1" lengthAdjust="spacingAndGlyphs">m</tspan><tspan x="1434.63" textLength="16.52" lengthAdjust="spacingAndGlyphs">e</tspan> <tspan x="1460.29" textLength="16.52" lengthAdjust="spacingAndGlyphs">e</tspan><tspan x="1476.9" textLength="15.25" lengthAdjust="spacingAndGlyphs">x</tspan><tspan x="1493.29" textLength="16.64" lengthAdjust="spacingAndGlyphs">p</tspan><tspan x="1510.88" textLength="6.25" lengthAdjust="spacingAndGlyphs">l</tspan><tspan x="1518.53" textLength="6.25" lengthAdjust="spacingAndGlyphs">i</tspan><tspan x="1525.81" textLength="13.8" lengthAdjust="spacingAndGlyphs">c</tspan><tspan x="1541.29" textLength="6.25" lengthAdjust="spacingAndGlyphs">i</tspan><tspan x="1548.48" textLength="8.82" lengthAdjust="spacingAndGlyphs">t</tspan> <tspan x="1568.31" textLength="16.64" lengthAdjust="spacingAndGlyphs">p</tspan><tspan x="1585.59" textLength="10.58" lengthAdjust="spacingAndGlyphs">r</tspan><tspan x="1596.17" textLength="16.26" lengthAdjust="spacingAndGlyphs">o</tspan><tspan x="1612.96" textLength="8.82" lengthAdjust="spacingAndGlyphs">t</tspan><tspan x="1623.78" textLength="16.26" lengthAdjust="spacingAndGlyphs">o</tspan><tspan x="1640.66" textLength="13.8" lengthAdjust="spacingAndGlyphs">c</tspan><tspan x="1655.72" textLength="16.26" lengthAdjust="spacingAndGlyphs">o</tspan><tspan x="1672.96" textLength="6.25" lengthAdjust="spacingAndGlyphs">l</tspan> <tspan x="1688.93" textLength="16.26" lengthAdjust="spacingAndGlyphs">o</tspan><tspan x="1706.03" textLength="16.64" lengthAdjust="spacingAndGlyphs">b</tspan><tspan x="1723.18" textLength="6.89" lengthAdjust="spacingAndGlyphs">j</tspan><tspan x="1730.82" textLength="16.52" lengthAdjust="spacingAndGlyphs">e</tspan><tspan x="1747.83" textLength="13.8" lengthAdjust="spacingAndGlyphs">c</tspan><tspan x="1762.86" textLength="8.82" lengthAdjust="spacingAndGlyphs">t</tspan><tspan x="1774.11" textLength="13.72" lengthAdjust="spacingAndGlyphs">s</tspan></text>
<text y="1078" font-size="28.88"><tspan x="757.72" textLength="8.82" lengthAdjust="spacingAndGlyphs">t</tspan><tspan x="768.67" textLength="16.6" lengthAdjust="spacingAndGlyphs">h</tspan><tspan x="786.16" textLength="15.26" lengthAdjust="spacingAndGlyphs">a</tspan><tspan x="802.78" textLength="8.82" lengthAdjust="spacingAndGlyphs">t</tspan> <tspan x="822.31" textLength="8.82" lengthAdjust="spacingAndGlyphs">t</tspan><tspan x="833.26" textLength="16.6" lengthAdjust="spacingAndGlyphs">h</tspan><tspan x="850.52" textLength="16.52" lengthAdjust="spacingAndGlyphs">e</tspan> <tspan x="876.27" textLength="13.8" lengthAdjust="spacingAndGlyphs">c</tspan><tspan x="891.33" textLength="16.26" lengthAdjust="spacingAndGlyphs">o</tspan><tspan x="908.28" textLength="26.1" lengthAdjust="spacingAndGlyphs">m</tspan><tspan x="935.07" textLength="26.1" lengthAdjust="spacingAndGlyphs">m</tspan><tspan x="961.85" textLength="16.49" lengthAdjust="spacingAndGlyphs">u</tspan><tspan x="979.4" textLength="16.49" lengthAdjust="spacingAndGlyphs">n</tspan><tspan x="997.01" textLength="6.25" lengthAdjust="spacingAndGlyphs">i</tspan><tspan x="1004.2" textLength="8.82" lengthAdjust="spacingAndGlyphs">t</tspan><tspan x="1015.47" textLength="14.77" lengthAdjust="spacingAndGlyphs">y</tspan> <tspan x="1040.09" textLength="13.8" lengthAdjust="spacingAndGlyphs">c</tspan><tspan x="1055.35" textLength="15.26" lengthAdjust="spacingAndGlyphs">a</tspan><tspan x="1072.24" textLength="16.49" lengthAdjust="spacingAndGlyphs">n</tspan> <tspan x="1098.59" textLength="6.25" lengthAdjust="spacingAndGlyphs">i</tspan><tspan x="1106.05" textLength="16.49" lengthAdjust="spacingAndGlyphs">n</tspan><tspan x="1123.68" textLength="13.72" lengthAdjust="spacingAndGlyphs">s</tspan><tspan x="1137.85" textLength="16.64" lengthAdjust="spacingAndGlyphs">p</tspan><tspan x="1154.99" textLength="16.52" lengthAdjust="spacingAndGlyphs">e</tspan><tspan x="1172" textLength="13.8" lengthAdjust="spacingAndGlyphs">c</tspan><tspan x="1187.03" textLength="8.82" lengthAdjust="spacingAndGlyphs">t</tspan><tspan x="1197.23" textLength="8.82" lengthAdjust="spacingAndGlyphs">,</tspan> <tspan x="1215.33" textLength="16.26" lengthAdjust="spacingAndGlyphs">o</tspan><tspan x="1232.43" textLength="16.64" lengthAdjust="spacingAndGlyphs">p</tspan><tspan x="1249.58" textLength="8.82" lengthAdjust="spacingAndGlyphs">t</tspan><tspan x="1260.81" textLength="6.25" lengthAdjust="spacingAndGlyphs">i</tspan><tspan x="1268.16" textLength="26.1" lengthAdjust="spacingAndGlyphs">m</tspan><tspan x="1295.24" textLength="6.25" lengthAdjust="spacingAndGlyphs">i</tspan><tspan x="1302.16" textLength="14.73" lengthAdjust="spacingAndGlyphs">z</tspan><tspan x="1316.86" textLength="16.52" lengthAdjust="spacingAndGlyphs">e</tspan><tspan x="1333.2" textLength="8.82" lengthAdjust="spacingAndGlyphs">,</tspan> <tspan x="1351.49" textLength="15.26" lengthAdjust="spacingAndGlyphs">a</tspan><tspan x="1368.39" textLength="16.49" lengthAdjust="spacingAndGlyphs">n</tspan><tspan x="1385.55" textLength="16.62" lengthAdjust="spacingAndGlyphs">d</tspan> <tspan x="1411.75" textLength="16.62" lengthAdjust="spacingAndGlyphs">g</tspan><tspan x="1429.23" textLength="16.26" lengthAdjust="spacingAndGlyphs">o</tspan><tspan x="1446.49" textLength="14.84" lengthAdjust="spacingAndGlyphs">v</tspan><tspan x="1462.3" textLength="16.52" lengthAdjust="spacingAndGlyphs">e</tspan><tspan x="1479.35" textLength="10.58" lengthAdjust="spacingAndGlyphs">r</tspan><tspan x="1490.3" textLength="16.49" lengthAdjust="spacingAndGlyphs">n</tspan> <tspan x="1516.23" textLength="16.26" lengthAdjust="spacingAndGlyphs">o</tspan><tspan x="1533.48" textLength="14.84" lengthAdjust="spacingAndGlyphs">v</tspan><tspan x="1549.29" textLength="16.52" lengthAdjust="spacingAndGlyphs">e</tspan><tspan x="1566.34" textLength="10.58" lengthAdjust="spacingAndGlyphs">r</tspan> <tspan x="1586.26" textLength="8.82" lengthAdjust="spacingAndGlyphs">t</tspan><tspan x="1597.5" textLength="6.25" lengthAdjust="spacingAndGlyphs">i</tspan><tspan x="1604.84" textLength="26.1" lengthAdjust="spacingAndGlyphs">m</tspan><tspan x="1631.47" textLength="16.52" lengthAdjust="spacingAndGlyphs">e</tspan><tspan x="1648.36" textLength="8.27" lengthAdjust="spacingAndGlyphs">.</tspan></text>
<text y="1230" font-size="26.16"><tspan x="22.66" textLength="17.94" lengthAdjust="spacingAndGlyphs">C</tspan><tspan x="39.91" textLength="14.45" lengthAdjust="spacingAndGlyphs">o</tspan><tspan x="55.12" textLength="14.66" lengthAdjust="spacingAndGlyphs">n</tspan><tspan x="70.47" textLength="12.42" lengthAdjust="spacingAndGlyphs">c</tspan><tspan x="83.87" textLength="14.68" lengthAdjust="spacingAndGlyphs">e</tspan><tspan x="99.22" textLength="14.79" lengthAdjust="spacingAndGlyphs">p</tspan><tspan x="114.49" textLength="7.99" lengthAdjust="spacingAndGlyphs">t</tspan><tspan x="124.24" textLength="14.66" lengthAdjust="spacingAndGlyphs">u</tspan><tspan x="139.82" textLength="13.82" lengthAdjust="spacingAndGlyphs">a</tspan><tspan x="155.04" textLength="5.55" lengthAdjust="spacingAndGlyphs">l</tspan> <tspan x="169.24" textLength="14.78" lengthAdjust="spacingAndGlyphs">d</tspan><tspan x="185.2" textLength="5.55" lengthAdjust="spacingAndGlyphs">i</tspan><tspan x="191.78" textLength="13.82" lengthAdjust="spacingAndGlyphs">a</tspan><tspan x="206.62" textLength="14.78" lengthAdjust="spacingAndGlyphs">g</tspan><tspan x="222.24" textLength="9.58" lengthAdjust="spacingAndGlyphs">r</tspan><tspan x="232.42" textLength="13.82" lengthAdjust="spacingAndGlyphs">a</tspan><tspan x="247.39" textLength="23.2" lengthAdjust="spacingAndGlyphs">m</tspan><tspan x="271.34" textLength="7.35" lengthAdjust="spacingAndGlyphs">:</tspan> <tspan x="287.31" textLength="14.76" lengthAdjust="spacingAndGlyphs">h</tspan><tspan x="302.72" textLength="14.45" lengthAdjust="spacingAndGlyphs">o</tspan><tspan x="318.51" textLength="17.94" lengthAdjust="spacingAndGlyphs">w</tspan> <tspan x="345.51" textLength="14.78" lengthAdjust="spacingAndGlyphs">g</tspan><tspan x="361.05" textLength="14.68" lengthAdjust="spacingAndGlyphs">e</tspan><tspan x="376.16" textLength="14.45" lengthAdjust="spacingAndGlyphs">o</tspan><tspan x="391.12" textLength="14.78" lengthAdjust="spacingAndGlyphs">g</tspan><tspan x="406.75" textLength="9.58" lengthAdjust="spacingAndGlyphs">r</tspan><tspan x="416.92" textLength="13.82" lengthAdjust="spacingAndGlyphs">a</tspan><tspan x="432.03" textLength="14.79" lengthAdjust="spacingAndGlyphs">p</tspan><tspan x="447.46" textLength="14.76" lengthAdjust="spacingAndGlyphs">h</tspan><tspan x="463.27" textLength="13.13" lengthAdjust="spacingAndGlyphs">y</tspan> <tspan x="486.74" textLength="16.8" lengthAdjust="spacingAndGlyphs">+</tspan> <tspan x="513.43" textLength="7.99" lengthAdjust="spacingAndGlyphs">t</tspan><tspan x="523.45" textLength="5.55" lengthAdjust="spacingAndGlyphs">i</tspan><tspan x="529.99" textLength="23.2" lengthAdjust="spacingAndGlyphs">m</tspan><tspan x="553.71" textLength="14.68" lengthAdjust="spacingAndGlyphs">e</tspan> <tspan x="576.76" textLength="13.82" lengthAdjust="spacingAndGlyphs">a</tspan><tspan x="591.67" textLength="9.58" lengthAdjust="spacingAndGlyphs">r</tspan><tspan x="601.16" textLength="14.68" lengthAdjust="spacingAndGlyphs">e</tspan> <tspan x="624.42" textLength="5.55" lengthAdjust="spacingAndGlyphs">l</tspan><tspan x="631.23" textLength="5.55" lengthAdjust="spacingAndGlyphs">i</tspan><tspan x="637.56" textLength="7.99" lengthAdjust="spacingAndGlyphs">f</tspan><tspan x="645.88" textLength="7.99" lengthAdjust="spacingAndGlyphs">t</tspan><tspan x="655.49" textLength="14.68" lengthAdjust="spacingAndGlyphs">e</tspan><tspan x="670.57" textLength="14.78" lengthAdjust="spacingAndGlyphs">d</tspan> <tspan x="694.31" textLength="5.55" lengthAdjust="spacingAndGlyphs">i</tspan><tspan x="700.96" textLength="14.66" lengthAdjust="spacingAndGlyphs">n</tspan><tspan x="716.23" textLength="7.99" lengthAdjust="spacingAndGlyphs">t</tspan><tspan x="725.88" textLength="14.45" lengthAdjust="spacingAndGlyphs">o</tspan> <tspan x="748.65" textLength="14.45" lengthAdjust="spacingAndGlyphs">o</tspan><tspan x="763.86" textLength="14.66" lengthAdjust="spacingAndGlyphs">n</tspan><tspan x="778.94" textLength="8.78" lengthAdjust="spacingAndGlyphs">-</tspan><tspan x="788.05" textLength="12.42" lengthAdjust="spacingAndGlyphs">c</tspan><tspan x="801.6" textLength="14.76" lengthAdjust="spacingAndGlyphs">h</tspan><tspan x="817.17" textLength="13.82" lengthAdjust="spacingAndGlyphs">a</tspan><tspan x="832.4" textLength="5.55" lengthAdjust="spacingAndGlyphs">i</tspan><tspan x="839.04" textLength="14.66" lengthAdjust="spacingAndGlyphs">n</tspan> <tspan x="861.88" textLength="13.1" lengthAdjust="spacingAndGlyphs">z</tspan><tspan x="875.01" textLength="14.45" lengthAdjust="spacingAndGlyphs">o</tspan><tspan x="890.21" textLength="14.66" lengthAdjust="spacingAndGlyphs">n</tspan><tspan x="905.49" textLength="14.68" lengthAdjust="spacingAndGlyphs">e</tspan> <tspan x="928.63" textLength="14.79" lengthAdjust="spacingAndGlyphs">p</tspan><tspan x="944.09" textLength="13.82" lengthAdjust="spacingAndGlyphs">a</tspan><tspan x="959" textLength="9.58" lengthAdjust="spacingAndGlyphs">r</tspan><tspan x="969.18" textLength="13.82" lengthAdjust="spacingAndGlyphs">a</tspan><tspan x="984.15" textLength="23.2" lengthAdjust="spacingAndGlyphs">m</tspan><tspan x="1007.87" textLength="14.68" lengthAdjust="spacingAndGlyphs">e</tspan><tspan x="1022.94" textLength="7.99" lengthAdjust="spacingAndGlyphs">t</tspan><tspan x="1032.55" textLength="14.68" lengthAdjust="spacingAndGlyphs">e</tspan><tspan x="1047.71" textLength="9.58" lengthAdjust="spacingAndGlyphs">r</tspan><tspan x="1058.1" textLength="12.42" lengthAdjust="spacingAndGlyphs">s</tspan> <tspan x="1078.43" textLength="13.82" lengthAdjust="spacingAndGlyphs">a</tspan><tspan x="1093.51" textLength="14.66" lengthAdjust="spacingAndGlyphs">n</tspan><tspan x="1108.8" textLength="14.78" lengthAdjust="spacingAndGlyphs">d</tspan> <tspan x="1132.14" textLength="14.78" lengthAdjust="spacingAndGlyphs">g</tspan><tspan x="1147.71" textLength="14.45" lengthAdjust="spacingAndGlyphs">o</tspan><tspan x="1163.08" textLength="13.19" lengthAdjust="spacingAndGlyphs">v</tspan><tspan x="1177.17" textLength="14.68" lengthAdjust="spacingAndGlyphs">e</tspan><tspan x="1192.33" textLength="9.58" lengthAdjust="spacingAndGlyphs">r</tspan><tspan x="1202.18" textLength="14.66" lengthAdjust="spacingAndGlyphs">n</tspan><tspan x="1217.65" textLength="13.82" lengthAdjust="spacingAndGlyphs">a</tspan><tspan x="1232.73" textLength="14.66" lengthAdjust="spacingAndGlyphs">n</tspan><tspan x="1248.08" textLength="12.42" lengthAdjust="spacingAndGlyphs">c</tspan><tspan x="1261.48" textLength="14.68" lengthAdjust="spacingAndGlyphs">e</tspan><tspan x="1276.53" textLength="7.35" lengthAdjust="spacingAndGlyphs">.</tspan></text>
</g>
</svg>
</body>
</html>
